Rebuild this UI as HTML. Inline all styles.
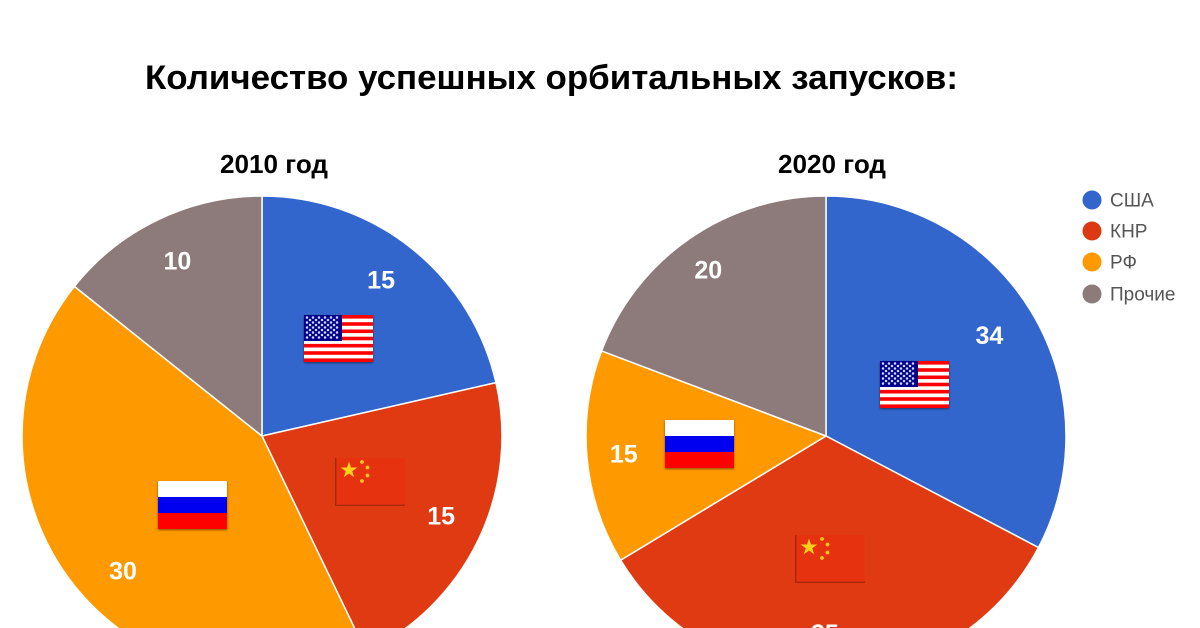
<!DOCTYPE html>
<html lang="ru">
<head>
<meta charset="utf-8">
<title>Количество успешных орбитальных запусков</title>
<style>
html,body{margin:0;padding:0;background:#fff;width:1200px;height:628px;overflow:hidden}
svg{display:block;font-family:"Liberation Sans",Arial,sans-serif}
</style>
</head>
<body>
<svg id="chart" width="1200" height="628" viewBox="0 0 1200 628" xmlns="http://www.w3.org/2000/svg">
  <defs>
    <filter id="flag-shadow" x="-10%" y="-10%" width="125%" height="125%">
      <feDropShadow dx="0" dy="1" stdDeviation="1" flood-color="#000" flood-opacity="0.5"/>
    </filter>
    <g id="flag-usa">
      <rect width="69" height="47" fill="#fff"/>
      <rect y="0" width="69" height="3.6" fill="#f00"/>
      <rect y="7.2" width="69" height="3.6" fill="#f00"/>
      <rect y="14.5" width="69" height="3.6" fill="#f00"/>
      <rect y="21.7" width="69" height="3.6" fill="#f00"/>
      <rect y="28.9" width="69" height="3.6" fill="#f00"/>
      <rect y="36.2" width="69" height="3.6" fill="#f00"/>
      <rect y="43.4" width="69" height="3.6" fill="#f00"/>
      <rect width="38" height="26" fill="#00008b"/>
      <g fill="#d4d8ff">
        <circle cx="3" cy="2.5" r="1.25"/><circle cx="9" cy="2.5" r="1.25"/><circle cx="15" cy="2.5" r="1.25"/><circle cx="21" cy="2.5" r="1.25"/><circle cx="27" cy="2.5" r="1.25"/><circle cx="33" cy="2.5" r="1.25"/>
        <circle cx="6" cy="5" r="1.25"/><circle cx="12" cy="5" r="1.25"/><circle cx="18" cy="5" r="1.25"/><circle cx="24" cy="5" r="1.25"/><circle cx="30" cy="5" r="1.25"/>
        <circle cx="3" cy="7.5" r="1.25"/><circle cx="9" cy="7.5" r="1.25"/><circle cx="15" cy="7.5" r="1.25"/><circle cx="21" cy="7.5" r="1.25"/><circle cx="27" cy="7.5" r="1.25"/><circle cx="33" cy="7.5" r="1.25"/>
        <circle cx="6" cy="10" r="1.25"/><circle cx="12" cy="10" r="1.25"/><circle cx="18" cy="10" r="1.25"/><circle cx="24" cy="10" r="1.25"/><circle cx="30" cy="10" r="1.25"/>
        <circle cx="3" cy="12.5" r="1.25"/><circle cx="9" cy="12.5" r="1.25"/><circle cx="15" cy="12.5" r="1.25"/><circle cx="21" cy="12.5" r="1.25"/><circle cx="27" cy="12.5" r="1.25"/><circle cx="33" cy="12.5" r="1.25"/>
        <circle cx="6" cy="15" r="1.25"/><circle cx="12" cy="15" r="1.25"/><circle cx="18" cy="15" r="1.25"/><circle cx="24" cy="15" r="1.25"/><circle cx="30" cy="15" r="1.25"/>
        <circle cx="3" cy="17.5" r="1.25"/><circle cx="9" cy="17.5" r="1.25"/><circle cx="15" cy="17.5" r="1.25"/><circle cx="21" cy="17.5" r="1.25"/><circle cx="27" cy="17.5" r="1.25"/><circle cx="33" cy="17.5" r="1.25"/>
        <circle cx="6" cy="20" r="1.25"/><circle cx="12" cy="20" r="1.25"/><circle cx="18" cy="20" r="1.25"/><circle cx="24" cy="20" r="1.25"/><circle cx="30" cy="20" r="1.25"/>
        <circle cx="3" cy="22.5" r="1.25"/><circle cx="9" cy="22.5" r="1.25"/><circle cx="15" cy="22.5" r="1.25"/><circle cx="21" cy="22.5" r="1.25"/><circle cx="27" cy="22.5" r="1.25"/><circle cx="33" cy="22.5" r="1.25"/>
      </g>
    </g>
    <g id="flag-china">
      <rect width="69" height="47" fill="#e6320f"/>
      <rect x="-1" y="0" width="1.5" height="48" fill="#a82a0a"/>
      <rect x="-1" y="46.6" width="70" height="1.4" fill="#a82a0a"/>
      <polygon fill="#ffd21a" points="13,3.5 15,9.5 21.3,9.5 16.2,13.2 18.2,19.2 13,15.5 7.8,19.2 9.8,13.2 4.7,9.5 11,9.5"/>
      <circle cx="26" cy="4" r="1.9" fill="#ffc81e"/>
      <circle cx="31.5" cy="9.5" r="1.9" fill="#ffc81e"/>
      <circle cx="31.5" cy="17.5" r="1.9" fill="#ffc81e"/>
      <circle cx="26" cy="23" r="1.9" fill="#ffc81e"/>
    </g>
    <g id="flag-russia">
      <rect width="69" height="16.5" fill="#fff"/>
      <rect y="16" width="69" height="16" fill="#0000f0"/>
      <rect y="32" width="69" height="16" fill="#f00"/>
    </g>
  </defs>

  <rect width="1200" height="628" fill="#fff"/>

  <text x="145" y="89" font-size="34" font-weight="700" fill="#000" textLength="813" lengthAdjust="spacingAndGlyphs">Количество успешных орбитальных запусков:</text>
  <text x="274" y="173" text-anchor="middle" font-size="26" font-weight="700" fill="#000" textLength="108" lengthAdjust="spacingAndGlyphs">2010 год</text>
  <text x="832" y="173" text-anchor="middle" font-size="26" font-weight="700" fill="#000" textLength="108" lengthAdjust="spacingAndGlyphs">2020 год</text>

  <g id="pie-2010"></g>
  <g id="pie-2020"></g>

  <g>
    <use href="#flag-usa" x="304" y="315" filter="url(#flag-shadow)"/>
    <use href="#flag-china" x="336" y="458"/>
    <use href="#flag-russia" x="158" y="481" filter="url(#flag-shadow)"/>
  </g>
  <g>
    <use href="#flag-usa" x="880" y="361" filter="url(#flag-shadow)"/>
    <use href="#flag-china" x="796" y="535"/>
    <use href="#flag-russia" x="665" y="420" filter="url(#flag-shadow)"/>
  </g>

  <g>
    <g>
      <circle cx="1092" cy="200" r="9.5" fill="#3366cc"/>
      <text x="1110" y="206.5" font-size="19" fill="#555">США</text>
    </g>
    <g>
      <circle cx="1092" cy="231" r="9.5" fill="#dc3912"/>
      <text x="1110" y="237.5" font-size="19" fill="#555">КНР</text>
    </g>
    <g>
      <circle cx="1092" cy="262" r="9.5" fill="#ff9900"/>
      <text x="1110" y="268.5" font-size="19" fill="#555">РФ</text>
    </g>
    <g>
      <circle cx="1092" cy="294" r="9.5" fill="#8d7b7b"/>
      <text x="1110" y="300.5" font-size="19" fill="#555">Прочие</text>
    </g>
  </g>
</svg>
<script>
const categories = ['usa', 'china', 'russia', 'other'];
const values2010 = [15, 15, 30, 10];
const values2020 = [34, 35, 15, 20];
const sliceColors = ['#3366cc', '#e03a12', '#ff9900', '#8d7b7b'];

const NS = 'http://www.w3.org/2000/svg';
const pieRadius = 240;
const labelRadius = 195;
const pieCenterY = 436;

function polar(cx, cy, r, fraction) {
  const a = fraction * 2 * Math.PI;
  return [cx + r * Math.sin(a), cy - r * Math.cos(a)];
}

function drawPie(groupId, year, cx, values, labelNudges) {
  const group = document.getElementById(groupId);
  const total = values.reduce(function (s, v) { return s + v; }, 0);
  let acc = 0;
  values.forEach(function (v, i) {
    const from = acc / total;
    const to = (acc + v) / total;
    acc += v;
    const p0 = polar(cx, pieCenterY, pieRadius, from);
    const p1 = polar(cx, pieCenterY, pieRadius, to);
    const large = to - from > 0.5 ? 1 : 0;
    const path = document.createElementNS(NS, 'path');
    path.setAttribute('d', 'M' + cx + ' ' + pieCenterY + 'L' + p0[0] + ' ' + p0[1] + 'A' + pieRadius + ' ' + pieRadius + ' 0 ' + large + ' 1 ' + p1[0] + ' ' + p1[1] + 'Z');
    path.setAttribute('fill', sliceColors[i]);
    path.setAttribute('stroke', '#fff');
    path.setAttribute('stroke-width', '1.5');
    
    
    group.appendChild(path);
  });
  acc = 0;
  values.forEach(function (v, i) {
    const mid = (acc + v / 2) / total;
    acc += v;
    const p = polar(cx, pieCenterY, labelRadius, mid);
    const t = document.createElementNS(NS, 'text');
    t.setAttribute('x', p[0] + labelNudges[i][0]);
    t.setAttribute('y', p[1] + 9 + labelNudges[i][1]);
    t.setAttribute('text-anchor', 'middle');
    t.setAttribute('font-size', '25');
    t.setAttribute('font-weight', '700');
    t.setAttribute('fill', '#fff');
    
    
    t.textContent = v;
    group.appendChild(t);
  });
}

drawPie('pie-2010', '2010', 262, values2010, [[-2.5, -4], [3.5, -5], [13.5, 13], [0, 0]]);
drawPie('pie-2020', '2020', 826, values2020, [[-3.5, 0], [-7, 2], [-8, 0], [-7, -6]]);
</script>
</body>
</html>
